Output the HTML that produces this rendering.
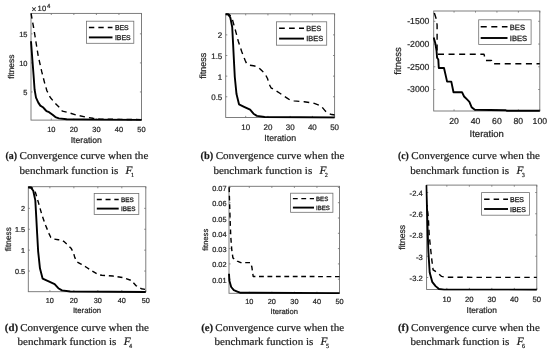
<!DOCTYPE html>
<html><head><meta charset="utf-8"><title>Convergence curves</title>
<style>html,body{margin:0;padding:0;background:#fff;}svg{display:block;filter:blur(0.3px);}</style>
</head><body>
<svg width="550" height="352" viewBox="0 0 550 352" text-rendering="geometricPrecision">
<rect width="550" height="352" fill="#fff"/>
<rect x="31" y="13.4" width="110.5" height="106.7" fill="none" stroke="#707070" stroke-width="0.9"/>
<path d="M51.3 120.1v-1.6 M51.3 13.4v1.6 M73.85 120.1v-1.6 M73.85 13.4v1.6 M96.4 120.1v-1.6 M96.4 13.4v1.6 M118.95 120.1v-1.6 M118.95 13.4v1.6 M141.5 120.1v-1.6 M141.5 13.4v1.6 M31 91.95h1.6 M141.5 91.95h-1.6 M31 62.9h1.6 M141.5 62.9h-1.6 M31 33.85h1.6 M141.5 33.85h-1.6" stroke="#707070" stroke-width="0.8" fill="none"/>
<clipPath id="ca"><rect x="29.8" y="12.2" width="112.9" height="109.1"/></clipPath>
<g clip-path="url(#ca)">
<polyline points="31.1,13.4 32.2,20 33.5,27 35,36 36.6,46 38.2,56 40,64 41.8,71.9 44.4,82.1 46.9,90.7 50.3,97.5 55.4,103.4 59.7,107.7 62.3,111.1 69.1,112.8 77.6,115.4 86.1,117.1 92.9,118.3 100.2,119.2 141.5,119.6" fill="none" stroke="#000" stroke-width="1.4" stroke-linejoin="round" stroke-dasharray="5.38 4.06"/>
<polyline points="31,41.2 32.4,60 33.6,75.8 34.6,89.7 36,97.7 38.3,102.6 40.3,105.6 42.9,107.2 45,109.5 46.5,111.1 49.1,112.2 52.6,114.8 55.4,117.1 58.9,118.4 66.7,119.2 100,119.6 141.5,119.9" fill="none" stroke="#000" stroke-width="1.9" stroke-linejoin="round"/>
</g>
<text x="51.3" y="131.5" font-size="7.46" text-anchor="middle" font-family='"Liberation Sans", Arial, sans-serif' fill="#262626" stroke="#262626" stroke-width="0.22">10</text>
<text x="73.85" y="131.5" font-size="7.46" text-anchor="middle" font-family='"Liberation Sans", Arial, sans-serif' fill="#262626" stroke="#262626" stroke-width="0.22">20</text>
<text x="96.4" y="131.5" font-size="7.46" text-anchor="middle" font-family='"Liberation Sans", Arial, sans-serif' fill="#262626" stroke="#262626" stroke-width="0.22">30</text>
<text x="118.95" y="131.5" font-size="7.46" text-anchor="middle" font-family='"Liberation Sans", Arial, sans-serif' fill="#262626" stroke="#262626" stroke-width="0.22">40</text>
<text x="141.5" y="131.5" font-size="7.46" text-anchor="middle" font-family='"Liberation Sans", Arial, sans-serif' fill="#262626" stroke="#262626" stroke-width="0.22">50</text>
<text x="27.5" y="95.13" font-size="7.46" text-anchor="end" font-family='"Liberation Sans", Arial, sans-serif' fill="#262626" stroke="#262626" stroke-width="0.22">5</text>
<text x="27.5" y="66.08" font-size="7.46" text-anchor="end" font-family='"Liberation Sans", Arial, sans-serif' fill="#262626" stroke="#262626" stroke-width="0.22">10</text>
<text x="27.5" y="37.03" font-size="7.46" text-anchor="end" font-family='"Liberation Sans", Arial, sans-serif' fill="#262626" stroke="#262626" stroke-width="0.22">15</text>
<text x="86.25" y="142.7" font-size="8.6" text-anchor="middle" font-family='"Liberation Sans", Arial, sans-serif' fill="#262626" stroke="#262626" stroke-width="0.22">Iteration</text>
<text transform="translate(14.1 66.75) rotate(-90)" font-size="8.4" text-anchor="middle" font-family='"Liberation Sans", Arial, sans-serif' fill="#262626" stroke="#262626" stroke-width="0.22">fitness</text>
<rect x="86.5" y="21.2" width="47.3" height="22.1" fill="#fff" stroke="#707070" stroke-width="0.8"/>
<polyline points="88.9,27.5 112.5,27.5" fill="none" stroke="#000" stroke-width="1.4" stroke-linejoin="round" stroke-dasharray="5.38 4.06"/>
<polyline points="88.9,37.4 112.5,37.4" fill="none" stroke="#000" stroke-width="1.9" stroke-linejoin="round"/>
<text x="114.9" y="29.98" font-size="6.9" text-anchor="start" font-family='"Liberation Sans", Arial, sans-serif' fill="#262626" stroke="#262626" stroke-width="0.3">BES</text>
<text x="114.9" y="39.88" font-size="6.9" text-anchor="start" font-family='"Liberation Sans", Arial, sans-serif' fill="#262626" stroke="#262626" stroke-width="0.3">IBES</text>
<text x="31.4" y="12.2" font-size="8.4" font-family='"Liberation Sans", Arial, sans-serif' fill="#262626" stroke="#262626" stroke-width="0.22">×</text><text x="37.5" y="11.2" font-size="7.6" letter-spacing="0.4" font-family='"Liberation Sans", Arial, sans-serif' fill="#262626" stroke="#262626" stroke-width="0.22">10</text><text x="46.9" y="7.6" font-size="5.9" font-family='"Liberation Sans", Arial, sans-serif' fill="#262626" stroke="#262626" stroke-width="0.22">4</text>
<rect x="225.7" y="13.8" width="108.9" height="103.7" fill="none" stroke="#707070" stroke-width="0.9"/>
<path d="M245.7 117.5v-1.6 M245.7 13.8v1.6 M267.93 117.5v-1.6 M267.93 13.8v1.6 M290.15 117.5v-1.6 M290.15 13.8v1.6 M312.38 117.5v-1.6 M312.38 13.8v1.6 M334.6 117.5v-1.6 M334.6 13.8v1.6 M225.7 96.77h1.6 M334.6 96.77h-1.6 M225.7 76.13h1.6 M334.6 76.13h-1.6 M225.7 55.5h1.6 M334.6 55.5h-1.6 M225.7 34.86h1.6 M334.6 34.86h-1.6" stroke="#707070" stroke-width="0.8" fill="none"/>
<clipPath id="cb"><rect x="224.5" y="12.6" width="111.3" height="106.1"/></clipPath>
<g clip-path="url(#cb)">
<polyline points="225.7,14.1 228.6,14.1 230.3,15.6 232.4,19.5 235.4,30.2 238.3,41.3 241.7,51.5 245.1,60.3 246.6,63.6 249,65.1 253.5,65.8 256,66.3 258.5,67.4 262,70.8 265.3,74.2 267.6,78.75 268.75,83.3 271,87.8 275,90.1 279.5,93 283.5,95.8 287.5,98.4 290.5,100.3 293.9,100.9 304.1,101.7 314.3,103.4 321.1,106 325.4,111.1 330.5,114.2 334.6,115" fill="none" stroke="#000" stroke-width="1.4" stroke-linejoin="round" stroke-dasharray="5.68 4.28"/>
<polyline points="225.7,14.3 228.2,14.5 230.3,17.5 232.2,27 233.1,44 233.9,60 234.8,77 236.5,94.1 239,104.3 244.1,106.8 250.1,109.7 253.5,113.7 256.9,115.9 264.6,117 334.6,117.5" fill="none" stroke="#000" stroke-width="1.9" stroke-linejoin="round"/>
</g>
<text x="245.7" y="129.5" font-size="7.98" text-anchor="middle" font-family='"Liberation Sans", Arial, sans-serif' fill="#262626" stroke="#262626" stroke-width="0.22">10</text>
<text x="267.93" y="129.5" font-size="7.98" text-anchor="middle" font-family='"Liberation Sans", Arial, sans-serif' fill="#262626" stroke="#262626" stroke-width="0.22">20</text>
<text x="290.15" y="129.5" font-size="7.98" text-anchor="middle" font-family='"Liberation Sans", Arial, sans-serif' fill="#262626" stroke="#262626" stroke-width="0.22">30</text>
<text x="312.38" y="129.5" font-size="7.98" text-anchor="middle" font-family='"Liberation Sans", Arial, sans-serif' fill="#262626" stroke="#262626" stroke-width="0.22">40</text>
<text x="334.6" y="129.5" font-size="7.98" text-anchor="middle" font-family='"Liberation Sans", Arial, sans-serif' fill="#262626" stroke="#262626" stroke-width="0.22">50</text>
<text x="222.3" y="100.14" font-size="7.98" text-anchor="end" font-family='"Liberation Sans", Arial, sans-serif' fill="#262626" stroke="#262626" stroke-width="0.22">0.5</text>
<text x="222.3" y="79.5" font-size="7.98" text-anchor="end" font-family='"Liberation Sans", Arial, sans-serif' fill="#262626" stroke="#262626" stroke-width="0.22">1</text>
<text x="222.3" y="58.87" font-size="7.98" text-anchor="end" font-family='"Liberation Sans", Arial, sans-serif' fill="#262626" stroke="#262626" stroke-width="0.22">1.5</text>
<text x="222.3" y="38.23" font-size="7.98" text-anchor="end" font-family='"Liberation Sans", Arial, sans-serif' fill="#262626" stroke="#262626" stroke-width="0.22">2</text>
<text x="280.15" y="141.1" font-size="8.8" text-anchor="middle" font-family='"Liberation Sans", Arial, sans-serif' fill="#262626" stroke="#262626" stroke-width="0.22">Iteration</text>
<text transform="translate(206.4 65.65) rotate(-90)" font-size="9" text-anchor="middle" font-family='"Liberation Sans", Arial, sans-serif' fill="#262626" stroke="#262626" stroke-width="0.22">fitness</text>
<rect x="276.4" y="21.8" width="50.3" height="23.4" fill="#fff" stroke="#707070" stroke-width="0.8"/>
<polyline points="279.1,28.3 304,28.3" fill="none" stroke="#000" stroke-width="1.4" stroke-linejoin="round" stroke-dasharray="5.68 4.28"/>
<polyline points="279.1,38.6 304,38.6" fill="none" stroke="#000" stroke-width="1.9" stroke-linejoin="round"/>
<text x="306.3" y="30.96" font-size="7.4" text-anchor="start" font-family='"Liberation Sans", Arial, sans-serif' fill="#262626" stroke="#262626" stroke-width="0.3">BES</text>
<text x="306.3" y="41.26" font-size="7.4" text-anchor="start" font-family='"Liberation Sans", Arial, sans-serif' fill="#262626" stroke="#262626" stroke-width="0.3">IBES</text>
<rect x="433.7" y="11" width="106.1" height="100" fill="none" stroke="#707070" stroke-width="0.9"/>
<path d="M454.06 111v-1.6 M454.06 11v1.6 M475.5 111v-1.6 M475.5 11v1.6 M496.93 111v-1.6 M496.93 11v1.6 M518.37 111v-1.6 M518.37 11v1.6 M539.8 111v-1.6 M539.8 11v1.6 M433.7 89.51h1.6 M539.8 89.51h-1.6 M433.7 66.78h1.6 M539.8 66.78h-1.6 M433.7 44.04h1.6 M539.8 44.04h-1.6 M433.7 21.3h1.6 M539.8 21.3h-1.6" stroke="#707070" stroke-width="0.8" fill="none"/>
<clipPath id="cc"><rect x="432.5" y="9.8" width="108.5" height="102.4"/></clipPath>
<g clip-path="url(#cc)">
<polyline points="433.7,11 436.4,19.4 437.1,25 437.1,54.2 484,54.2 485.5,60.5 491.5,60.5 492.5,63.8 539.8,63.8" fill="none" stroke="#000" stroke-width="1.4" stroke-linejoin="round" stroke-dasharray="6.04 4.56" stroke-dashoffset="-2.1"/>
<polyline points="433.7,37.4 435.4,43.6 436.5,50.5 437.1,57.8 438.3,59.5 438.8,68 444,68 445.4,74.1 447.1,81.6 451.3,81.6 453.5,92.2 462,92.2 464.1,96.5 467.3,99.7 469.4,101.8 471.6,107.2 474.8,109.8 505.5,110.2 507,110.8 539.8,110.8" fill="none" stroke="#000" stroke-width="1.9" stroke-linejoin="round"/>
</g>
<text x="454.06" y="124.3" font-size="8.69" text-anchor="middle" font-family='"Liberation Sans", Arial, sans-serif' fill="#262626" stroke="#262626" stroke-width="0.22">20</text>
<text x="475.5" y="124.3" font-size="8.69" text-anchor="middle" font-family='"Liberation Sans", Arial, sans-serif' fill="#262626" stroke="#262626" stroke-width="0.22">40</text>
<text x="496.93" y="124.3" font-size="8.69" text-anchor="middle" font-family='"Liberation Sans", Arial, sans-serif' fill="#262626" stroke="#262626" stroke-width="0.22">60</text>
<text x="518.37" y="124.3" font-size="8.69" text-anchor="middle" font-family='"Liberation Sans", Arial, sans-serif' fill="#262626" stroke="#262626" stroke-width="0.22">80</text>
<text x="539.8" y="124.3" font-size="8.69" text-anchor="middle" font-family='"Liberation Sans", Arial, sans-serif' fill="#262626" stroke="#262626" stroke-width="0.22">100</text>
<text x="429.4" y="92.44" font-size="8.69" text-anchor="end" font-family='"Liberation Sans", Arial, sans-serif' fill="#262626" stroke="#262626" stroke-width="0.22">-3000</text>
<text x="429.4" y="69.7" font-size="8.69" text-anchor="end" font-family='"Liberation Sans", Arial, sans-serif' fill="#262626" stroke="#262626" stroke-width="0.22">-2500</text>
<text x="429.4" y="46.97" font-size="8.69" text-anchor="end" font-family='"Liberation Sans", Arial, sans-serif' fill="#262626" stroke="#262626" stroke-width="0.22">-2000</text>
<text x="429.4" y="24.23" font-size="8.69" text-anchor="end" font-family='"Liberation Sans", Arial, sans-serif' fill="#262626" stroke="#262626" stroke-width="0.22">-1500</text>
<text x="486.75" y="136.6" font-size="9.5" text-anchor="middle" font-family='"Liberation Sans", Arial, sans-serif' fill="#262626" stroke="#262626" stroke-width="0.22">Iteration</text>
<text transform="translate(401.4 61) rotate(-90)" font-size="9.5" text-anchor="middle" font-family='"Liberation Sans", Arial, sans-serif' fill="#262626" stroke="#262626" stroke-width="0.22">fitness</text>
<rect x="478.7" y="19.8" width="52.4" height="24.7" fill="#fff" stroke="#707070" stroke-width="0.8"/>
<polyline points="480.7,26.8 507.5,26.8" fill="none" stroke="#000" stroke-width="1.4" stroke-linejoin="round" stroke-dasharray="6.04 4.56"/>
<polyline points="480.7,38 507.5,38" fill="none" stroke="#000" stroke-width="1.9" stroke-linejoin="round"/>
<text x="509.8" y="29.54" font-size="7.6" text-anchor="start" font-family='"Liberation Sans", Arial, sans-serif' fill="#262626" stroke="#262626" stroke-width="0.3">BES</text>
<text x="509.8" y="40.74" font-size="7.6" text-anchor="start" font-family='"Liberation Sans", Arial, sans-serif' fill="#262626" stroke="#262626" stroke-width="0.3">IBES</text>
<rect x="28.3" y="186.7" width="117.5" height="105" fill="none" stroke="#707070" stroke-width="0.9"/>
<path d="M49.88 291.7v-1.6 M49.88 186.7v1.6 M73.86 291.7v-1.6 M73.86 186.7v1.6 M97.84 291.7v-1.6 M97.84 186.7v1.6 M121.82 291.7v-1.6 M121.82 186.7v1.6 M145.8 291.7v-1.6 M145.8 186.7v1.6 M28.3 271.05h1.6 M145.8 271.05h-1.6 M28.3 250.15h1.6 M145.8 250.15h-1.6 M28.3 229.25h1.6 M145.8 229.25h-1.6 M28.3 208.35h1.6 M145.8 208.35h-1.6" stroke="#707070" stroke-width="0.8" fill="none"/>
<clipPath id="cd"><rect x="27.1" y="185.5" width="119.9" height="107.4"/></clipPath>
<g clip-path="url(#cd)">
<polyline points="28.3,187.32 31.43,187.32 33.26,188.84 35.53,192.79 38.77,203.63 41.9,214.87 45.56,225.2 49.23,234.12 50.85,237.46 53.44,238.98 58.3,239.69 60.99,240.19 63.69,241.31 67.47,244.75 71.03,248.2 73.51,252.8 74.75,257.41 77.18,261.97 81.49,264.3 86.35,267.24 90.66,270.07 94.98,272.71 98.22,274.63 101.89,275.24 112.89,276.05 123.9,277.77 131.23,280.4 135.87,285.57 141.38,288.71 145.8,289.52" fill="none" stroke="#000" stroke-width="1.4" stroke-linejoin="round" stroke-dasharray="4.99 3.77"/>
<polyline points="28.3,187.53 31,187.73 33.26,190.77 35.31,200.39 36.28,217.61 37.15,233.81 38.12,251.03 39.95,268.35 42.65,278.68 48.15,281.21 54.63,284.15 58.3,288.2 61.96,290.43 70.27,291.54 145.8,292.05" fill="none" stroke="#000" stroke-width="1.9" stroke-linejoin="round"/>
</g>
<text x="49.88" y="303.2" font-size="7.25" text-anchor="middle" font-family='"Liberation Sans", Arial, sans-serif' fill="#262626" stroke="#262626" stroke-width="0.22">10</text>
<text x="73.86" y="303.2" font-size="7.25" text-anchor="middle" font-family='"Liberation Sans", Arial, sans-serif' fill="#262626" stroke="#262626" stroke-width="0.22">20</text>
<text x="97.84" y="303.2" font-size="7.25" text-anchor="middle" font-family='"Liberation Sans", Arial, sans-serif' fill="#262626" stroke="#262626" stroke-width="0.22">30</text>
<text x="121.82" y="303.2" font-size="7.25" text-anchor="middle" font-family='"Liberation Sans", Arial, sans-serif' fill="#262626" stroke="#262626" stroke-width="0.22">40</text>
<text x="145.8" y="303.2" font-size="7.25" text-anchor="middle" font-family='"Liberation Sans", Arial, sans-serif' fill="#262626" stroke="#262626" stroke-width="0.22">50</text>
<text x="25.1" y="274.16" font-size="7.25" text-anchor="end" font-family='"Liberation Sans", Arial, sans-serif' fill="#262626" stroke="#262626" stroke-width="0.22">0.5</text>
<text x="25.1" y="253.26" font-size="7.25" text-anchor="end" font-family='"Liberation Sans", Arial, sans-serif' fill="#262626" stroke="#262626" stroke-width="0.22">1</text>
<text x="25.1" y="232.36" font-size="7.25" text-anchor="end" font-family='"Liberation Sans", Arial, sans-serif' fill="#262626" stroke="#262626" stroke-width="0.22">1.5</text>
<text x="25.1" y="211.46" font-size="7.25" text-anchor="end" font-family='"Liberation Sans", Arial, sans-serif' fill="#262626" stroke="#262626" stroke-width="0.22">2</text>
<text x="87.05" y="313.4" font-size="7.8" text-anchor="middle" font-family='"Liberation Sans", Arial, sans-serif' fill="#262626" stroke="#262626" stroke-width="0.22">Iteration</text>
<text transform="translate(11.4 239.2) rotate(-90)" font-size="8.3" text-anchor="middle" font-family='"Liberation Sans", Arial, sans-serif' fill="#262626" stroke="#262626" stroke-width="0.22">fitness</text>
<rect x="94.2" y="193.5" width="44.6" height="21" fill="#fff" stroke="#707070" stroke-width="0.8"/>
<polyline points="96.8,199.5 118.7,199.5" fill="none" stroke="#000" stroke-width="1.4" stroke-linejoin="round" stroke-dasharray="4.99 3.77"/>
<polyline points="96.8,208.6 118.7,208.6" fill="none" stroke="#000" stroke-width="1.9" stroke-linejoin="round"/>
<text x="121" y="201.8" font-size="6.4" text-anchor="start" font-family='"Liberation Sans", Arial, sans-serif' fill="#262626" stroke="#262626" stroke-width="0.3">BES</text>
<text x="121" y="210.9" font-size="6.4" text-anchor="start" font-family='"Liberation Sans", Arial, sans-serif' fill="#262626" stroke="#262626" stroke-width="0.3">IBES</text>
<rect x="229" y="186.3" width="110.5" height="107" fill="none" stroke="#707070" stroke-width="0.9"/>
<path d="M249.3 293.3v-1.6 M249.3 186.3v1.6 M271.85 293.3v-1.6 M271.85 186.3v1.6 M294.4 293.3v-1.6 M294.4 186.3v1.6 M316.95 293.3v-1.6 M316.95 186.3v1.6 M339.5 293.3v-1.6 M339.5 186.3v1.6 M229 279.2h1.6 M339.5 279.2h-1.6 M229 263.9h1.6 M339.5 263.9h-1.6 M229 248.6h1.6 M339.5 248.6h-1.6 M229 233.3h1.6 M339.5 233.3h-1.6 M229 218h1.6 M339.5 218h-1.6 M229 202.7h1.6 M339.5 202.7h-1.6 M229 187.4h1.6 M339.5 187.4h-1.6" stroke="#707070" stroke-width="0.8" fill="none"/>
<clipPath id="ce"><rect x="227.8" y="185.1" width="112.9" height="109.4"/></clipPath>
<g clip-path="url(#ce)">
<polyline points="229.1,186.3 229.8,210 230.3,225 230.8,237 231.7,249.1 232.9,257.9 237.3,261.1 240.8,262.6 250.5,262.6 251.8,266.7 253.2,276.5 339.5,276.6" fill="none" stroke="#000" stroke-width="1.4" stroke-linejoin="round" stroke-dasharray="4.81 3.63" stroke-dashoffset="-1"/>
<polyline points="229,273.7 229.4,280.8 231.2,287 233.8,290.1 237.3,291.6 240,292.7 339.5,293.1" fill="none" stroke="#000" stroke-width="1.9" stroke-linejoin="round"/>
</g>
<text x="249.3" y="303.8" font-size="7.35" text-anchor="middle" font-family='"Liberation Sans", Arial, sans-serif' fill="#262626" stroke="#262626" stroke-width="0.22">10</text>
<text x="271.85" y="303.8" font-size="7.35" text-anchor="middle" font-family='"Liberation Sans", Arial, sans-serif' fill="#262626" stroke="#262626" stroke-width="0.22">20</text>
<text x="294.4" y="303.8" font-size="7.35" text-anchor="middle" font-family='"Liberation Sans", Arial, sans-serif' fill="#262626" stroke="#262626" stroke-width="0.22">30</text>
<text x="316.95" y="303.8" font-size="7.35" text-anchor="middle" font-family='"Liberation Sans", Arial, sans-serif' fill="#262626" stroke="#262626" stroke-width="0.22">40</text>
<text x="339.5" y="303.8" font-size="7.35" text-anchor="middle" font-family='"Liberation Sans", Arial, sans-serif' fill="#262626" stroke="#262626" stroke-width="0.22">50</text>
<text x="226.5" y="282.75" font-size="7.35" text-anchor="end" font-family='"Liberation Sans", Arial, sans-serif' fill="#262626" stroke="#262626" stroke-width="0.22">0.01</text>
<text x="226.5" y="267.45" font-size="7.35" text-anchor="end" font-family='"Liberation Sans", Arial, sans-serif' fill="#262626" stroke="#262626" stroke-width="0.22">0.02</text>
<text x="226.5" y="252.15" font-size="7.35" text-anchor="end" font-family='"Liberation Sans", Arial, sans-serif' fill="#262626" stroke="#262626" stroke-width="0.22">0.03</text>
<text x="226.5" y="236.85" font-size="7.35" text-anchor="end" font-family='"Liberation Sans", Arial, sans-serif' fill="#262626" stroke="#262626" stroke-width="0.22">0.04</text>
<text x="226.5" y="221.55" font-size="7.35" text-anchor="end" font-family='"Liberation Sans", Arial, sans-serif' fill="#262626" stroke="#262626" stroke-width="0.22">0.05</text>
<text x="226.5" y="206.25" font-size="7.35" text-anchor="end" font-family='"Liberation Sans", Arial, sans-serif' fill="#262626" stroke="#262626" stroke-width="0.22">0.06</text>
<text x="226.5" y="190.95" font-size="7.35" text-anchor="end" font-family='"Liberation Sans", Arial, sans-serif' fill="#262626" stroke="#262626" stroke-width="0.22">0.07</text>
<text x="284.25" y="313.7" font-size="7.6" text-anchor="middle" font-family='"Liberation Sans", Arial, sans-serif' fill="#262626" stroke="#262626" stroke-width="0.22">Iteration</text>
<text transform="translate(208.3 239.8) rotate(-90)" font-size="7.6" text-anchor="middle" font-family='"Liberation Sans", Arial, sans-serif' fill="#262626" stroke="#262626" stroke-width="0.22">fitness</text>
<rect x="290.6" y="193.2" width="42.3" height="19.1" fill="#fff" stroke="#707070" stroke-width="0.8"/>
<polyline points="292.9,198.6 314,198.6" fill="none" stroke="#000" stroke-width="1.4" stroke-linejoin="round" stroke-dasharray="4.81 3.63"/>
<polyline points="292.9,207.6 314,207.6" fill="none" stroke="#000" stroke-width="1.9" stroke-linejoin="round"/>
<text x="316" y="200.8" font-size="6.1" text-anchor="start" font-family='"Liberation Sans", Arial, sans-serif' fill="#262626" stroke="#262626" stroke-width="0.3">BES</text>
<text x="316" y="209.8" font-size="6.1" text-anchor="start" font-family='"Liberation Sans", Arial, sans-serif' fill="#262626" stroke="#262626" stroke-width="0.3">IBES</text>
<rect x="426.6" y="185.1" width="110.2" height="104.4" fill="none" stroke="#707070" stroke-width="0.9"/>
<path d="M446.84 289.5v-1.6 M446.84 185.1v1.6 M469.33 289.5v-1.6 M469.33 185.1v1.6 M491.82 289.5v-1.6 M491.82 185.1v1.6 M514.31 289.5v-1.6 M514.31 185.1v1.6 M536.8 289.5v-1.6 M536.8 185.1v1.6 M426.6 277.5h1.6 M536.8 277.5h-1.6 M426.6 256.25h1.6 M536.8 256.25h-1.6 M426.6 235h1.6 M536.8 235h-1.6 M426.6 213.75h1.6 M536.8 213.75h-1.6 M426.6 192.5h1.6 M536.8 192.5h-1.6" stroke="#707070" stroke-width="0.8" fill="none"/>
<clipPath id="cf"><rect x="425.4" y="183.9" width="112.6" height="106.8"/></clipPath>
<g clip-path="url(#cf)">
<polyline points="427,205 428.4,218.5 429.2,235 430.6,248.6 431.9,260.6 433.1,269.9 437.3,272.5 441.6,276.4 445.9,277.3 536.8,277.4" fill="none" stroke="#000" stroke-width="1.4" stroke-linejoin="round" stroke-dasharray="5.45 4.11" stroke-dashoffset="3.8"/>
<polyline points="426.3,185.1 427.2,215 427.8,235 428.4,252 429.7,272.5 432.2,281.8 435.6,286.1 439,289 444.1,289.6 536.8,289.7" fill="none" stroke="#000" stroke-width="1.9" stroke-linejoin="round"/>
</g>
<text x="446.84" y="301.5" font-size="7.67" text-anchor="middle" font-family='"Liberation Sans", Arial, sans-serif' fill="#262626" stroke="#262626" stroke-width="0.22">10</text>
<text x="469.33" y="301.5" font-size="7.67" text-anchor="middle" font-family='"Liberation Sans", Arial, sans-serif' fill="#262626" stroke="#262626" stroke-width="0.22">20</text>
<text x="491.82" y="301.5" font-size="7.67" text-anchor="middle" font-family='"Liberation Sans", Arial, sans-serif' fill="#262626" stroke="#262626" stroke-width="0.22">30</text>
<text x="514.31" y="301.5" font-size="7.67" text-anchor="middle" font-family='"Liberation Sans", Arial, sans-serif' fill="#262626" stroke="#262626" stroke-width="0.22">40</text>
<text x="536.8" y="301.5" font-size="7.67" text-anchor="middle" font-family='"Liberation Sans", Arial, sans-serif' fill="#262626" stroke="#262626" stroke-width="0.22">50</text>
<text x="422.8" y="280.76" font-size="7.67" text-anchor="end" font-family='"Liberation Sans", Arial, sans-serif' fill="#262626" stroke="#262626" stroke-width="0.22">-3.2</text>
<text x="422.8" y="259.51" font-size="7.67" text-anchor="end" font-family='"Liberation Sans", Arial, sans-serif' fill="#262626" stroke="#262626" stroke-width="0.22">-3</text>
<text x="422.8" y="238.26" font-size="7.67" text-anchor="end" font-family='"Liberation Sans", Arial, sans-serif' fill="#262626" stroke="#262626" stroke-width="0.22">-2.8</text>
<text x="422.8" y="217.01" font-size="7.67" text-anchor="end" font-family='"Liberation Sans", Arial, sans-serif' fill="#262626" stroke="#262626" stroke-width="0.22">-2.6</text>
<text x="422.8" y="195.76" font-size="7.67" text-anchor="end" font-family='"Liberation Sans", Arial, sans-serif' fill="#262626" stroke="#262626" stroke-width="0.22">-2.4</text>
<text x="481.7" y="312.7" font-size="8.4" text-anchor="middle" font-family='"Liberation Sans", Arial, sans-serif' fill="#262626" stroke="#262626" stroke-width="0.22">Iteration</text>
<text transform="translate(404.5 237.3) rotate(-90)" font-size="8.6" text-anchor="middle" font-family='"Liberation Sans", Arial, sans-serif' fill="#262626" stroke="#262626" stroke-width="0.22">fitness</text>
<rect x="481.6" y="192.6" width="47.8" height="22.6" fill="#fff" stroke="#707070" stroke-width="0.8"/>
<polyline points="484.1,199.3 508,199.3" fill="none" stroke="#000" stroke-width="1.4" stroke-linejoin="round" stroke-dasharray="5.45 4.11"/>
<polyline points="484.1,209 508,209" fill="none" stroke="#000" stroke-width="1.9" stroke-linejoin="round"/>
<text x="510" y="201.82" font-size="7" text-anchor="start" font-family='"Liberation Sans", Arial, sans-serif' fill="#262626" stroke="#262626" stroke-width="0.3">BES</text>
<text x="510" y="211.52" font-size="7" text-anchor="start" font-family='"Liberation Sans", Arial, sans-serif' fill="#262626" stroke="#262626" stroke-width="0.3">IBES</text>
<text x="5.49" y="159.3" font-size="10.6" font-family='"Liberation Serif", "Times New Roman", serif' fill="#1a1a1a" stroke="#1a1a1a" stroke-width="0.2" font-weight="bold" textLength="11.5" lengthAdjust="spacingAndGlyphs">(a)</text>
<text x="19.55" y="159.3" font-size="10.6" font-family='"Liberation Serif", "Times New Roman", serif' fill="#1a1a1a" stroke="#1a1a1a" stroke-width="0.2" textLength="128.8" lengthAdjust="spacingAndGlyphs">Convergence curve when the</text>
<text x="19.5" y="173.6" font-size="10.6" font-family='"Liberation Serif", "Times New Roman", serif' fill="#1a1a1a" stroke="#1a1a1a" stroke-width="0.2" textLength="98.8" lengthAdjust="spacingAndGlyphs">benchmark function is</text>
<text x="125.6" y="173.6" font-size="11.4" font-family='"Liberation Serif", "Times New Roman", serif' fill="#1a1a1a" stroke="#1a1a1a" stroke-width="0.2" font-style="italic">F</text>
<text x="130.9" y="176.7" font-size="6.2" font-family='"Liberation Serif", "Times New Roman", serif' fill="#1a1a1a" stroke="#1a1a1a" stroke-width="0.2">1</text>
<text x="200.45" y="159.3" font-size="10.6" font-family='"Liberation Serif", "Times New Roman", serif' fill="#1a1a1a" stroke="#1a1a1a" stroke-width="0.2" font-weight="bold" textLength="12.7" lengthAdjust="spacingAndGlyphs">(b)</text>
<text x="215.65" y="159.3" font-size="10.6" font-family='"Liberation Serif", "Times New Roman", serif' fill="#1a1a1a" stroke="#1a1a1a" stroke-width="0.2" textLength="128.8" lengthAdjust="spacingAndGlyphs">Convergence curve when the</text>
<text x="213.4" y="173.6" font-size="10.6" font-family='"Liberation Serif", "Times New Roman", serif' fill="#1a1a1a" stroke="#1a1a1a" stroke-width="0.2" textLength="98.8" lengthAdjust="spacingAndGlyphs">benchmark function is</text>
<text x="319.5" y="173.6" font-size="11.4" font-family='"Liberation Serif", "Times New Roman", serif' fill="#1a1a1a" stroke="#1a1a1a" stroke-width="0.2" font-style="italic">F</text>
<text x="324.8" y="176.7" font-size="6.2" font-family='"Liberation Serif", "Times New Roman", serif' fill="#1a1a1a" stroke="#1a1a1a" stroke-width="0.2">2</text>
<text x="397.95" y="159.3" font-size="10.6" font-family='"Liberation Serif", "Times New Roman", serif' fill="#1a1a1a" stroke="#1a1a1a" stroke-width="0.2" font-weight="bold" textLength="10.8" lengthAdjust="spacingAndGlyphs">(c)</text>
<text x="411.25" y="159.3" font-size="10.6" font-family='"Liberation Serif", "Times New Roman", serif' fill="#1a1a1a" stroke="#1a1a1a" stroke-width="0.2" textLength="128.8" lengthAdjust="spacingAndGlyphs">Convergence curve when the</text>
<text x="410.3" y="173.6" font-size="10.6" font-family='"Liberation Serif", "Times New Roman", serif' fill="#1a1a1a" stroke="#1a1a1a" stroke-width="0.2" textLength="98.8" lengthAdjust="spacingAndGlyphs">benchmark function is</text>
<text x="516.4" y="173.6" font-size="11.4" font-family='"Liberation Serif", "Times New Roman", serif' fill="#1a1a1a" stroke="#1a1a1a" stroke-width="0.2" font-style="italic">F</text>
<text x="521.7" y="176.7" font-size="6.2" font-family='"Liberation Serif", "Times New Roman", serif' fill="#1a1a1a" stroke="#1a1a1a" stroke-width="0.2">3</text>
<text x="4.85" y="330.5" font-size="10.6" font-family='"Liberation Serif", "Times New Roman", serif' fill="#1a1a1a" stroke="#1a1a1a" stroke-width="0.2" font-weight="bold" textLength="13.2" lengthAdjust="spacingAndGlyphs">(d)</text>
<text x="20.15" y="330.5" font-size="10.6" font-family='"Liberation Serif", "Times New Roman", serif' fill="#1a1a1a" stroke="#1a1a1a" stroke-width="0.2" textLength="128.8" lengthAdjust="spacingAndGlyphs">Convergence curve when the</text>
<text x="17.6" y="344.6" font-size="10.6" font-family='"Liberation Serif", "Times New Roman", serif' fill="#1a1a1a" stroke="#1a1a1a" stroke-width="0.2" textLength="98.8" lengthAdjust="spacingAndGlyphs">benchmark function is</text>
<text x="123.7" y="344.6" font-size="11.4" font-family='"Liberation Serif", "Times New Roman", serif' fill="#1a1a1a" stroke="#1a1a1a" stroke-width="0.2" font-style="italic">F</text>
<text x="129" y="347.7" font-size="6.2" font-family='"Liberation Serif", "Times New Roman", serif' fill="#1a1a1a" stroke="#1a1a1a" stroke-width="0.2">4</text>
<text x="201.15" y="330.5" font-size="10.6" font-family='"Liberation Serif", "Times New Roman", serif' fill="#1a1a1a" stroke="#1a1a1a" stroke-width="0.2" font-weight="bold" textLength="11.9" lengthAdjust="spacingAndGlyphs">(e)</text>
<text x="215.35" y="330.5" font-size="10.6" font-family='"Liberation Serif", "Times New Roman", serif' fill="#1a1a1a" stroke="#1a1a1a" stroke-width="0.2" textLength="128.8" lengthAdjust="spacingAndGlyphs">Convergence curve when the</text>
<text x="214.5" y="344.6" font-size="10.6" font-family='"Liberation Serif", "Times New Roman", serif' fill="#1a1a1a" stroke="#1a1a1a" stroke-width="0.2" textLength="98.8" lengthAdjust="spacingAndGlyphs">benchmark function is</text>
<text x="320.6" y="344.6" font-size="11.4" font-family='"Liberation Serif", "Times New Roman", serif' fill="#1a1a1a" stroke="#1a1a1a" stroke-width="0.2" font-style="italic">F</text>
<text x="325.9" y="347.7" font-size="6.2" font-family='"Liberation Serif", "Times New Roman", serif' fill="#1a1a1a" stroke="#1a1a1a" stroke-width="0.2">5</text>
<text x="397.95" y="330.5" font-size="10.6" font-family='"Liberation Serif", "Times New Roman", serif' fill="#1a1a1a" stroke="#1a1a1a" stroke-width="0.2" font-weight="bold" textLength="10.8" lengthAdjust="spacingAndGlyphs">(f)</text>
<text x="411.05" y="330.5" font-size="10.6" font-family='"Liberation Serif", "Times New Roman", serif' fill="#1a1a1a" stroke="#1a1a1a" stroke-width="0.2" textLength="128.8" lengthAdjust="spacingAndGlyphs">Convergence curve when the</text>
<text x="410.6" y="344.6" font-size="10.6" font-family='"Liberation Serif", "Times New Roman", serif' fill="#1a1a1a" stroke="#1a1a1a" stroke-width="0.2" textLength="98.8" lengthAdjust="spacingAndGlyphs">benchmark function is</text>
<text x="516.7" y="344.6" font-size="11.4" font-family='"Liberation Serif", "Times New Roman", serif' fill="#1a1a1a" stroke="#1a1a1a" stroke-width="0.2" font-style="italic">F</text>
<text x="522" y="347.7" font-size="6.2" font-family='"Liberation Serif", "Times New Roman", serif' fill="#1a1a1a" stroke="#1a1a1a" stroke-width="0.2">6</text>
</svg>
</body></html>
